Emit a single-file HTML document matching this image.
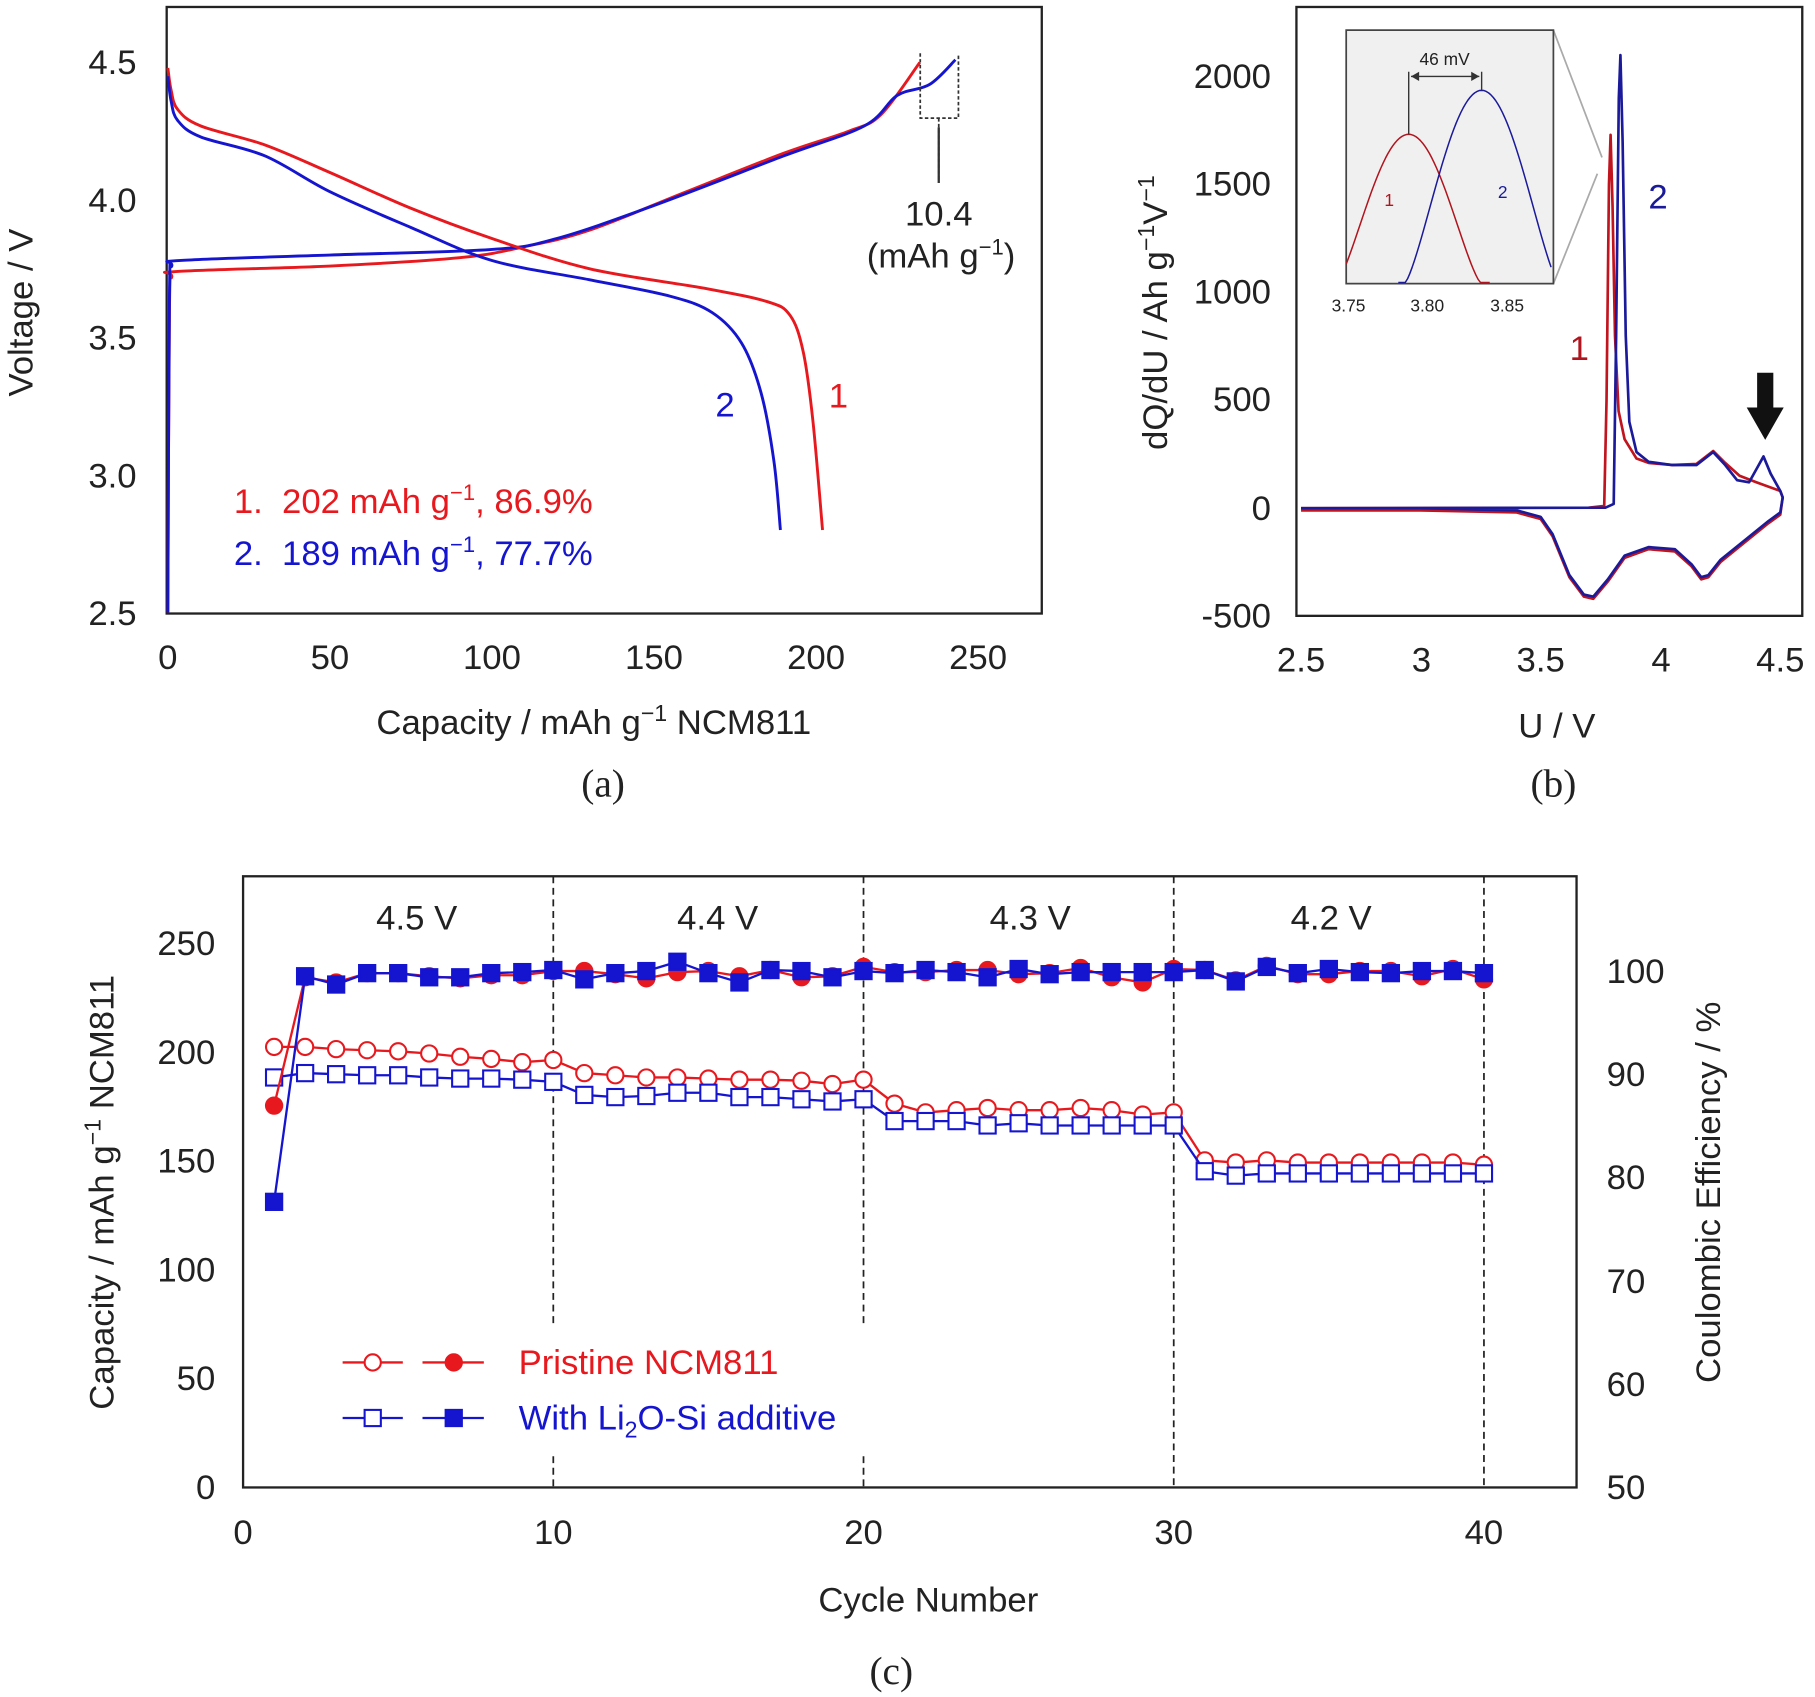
<!DOCTYPE html>
<html><head><meta charset="utf-8"><style>
html,body{margin:0;padding:0;background:#fff}
svg{display:block}
text{font-family:"Liberation Sans",sans-serif;fill:#222}
.t{font-size:30px}
.l{font-size:30px}
.s{font-family:"Liberation Serif",serif;font-size:34px}
</style></head><body>
<svg id="g" xmlns="http://www.w3.org/2000/svg" width="1815" height="1697" viewBox="0 0 1568 1466">
<!-- Panel a -->
<rect x="144" y="6" width="756" height="524" fill="none" stroke="#222" stroke-width="2"/>
<g class="t" text-anchor="end">
<text x="118" y="64">4.5</text><text x="118" y="183">4.0</text><text x="118" y="302">3.5</text><text x="118" y="421">3.0</text><text x="118" y="540">2.5</text></g>
<g class="t" text-anchor="middle">
<text x="145" y="578">0</text><text x="285" y="578">50</text><text x="425" y="578">100</text><text x="565" y="578">150</text><text x="705" y="578">200</text><text x="845" y="578">250</text></g>
<text class="l" x="513" y="634" text-anchor="middle">Capacity / mAh g<tspan font-size="20" dy="-11">−1</tspan><tspan dy="11"> NCM811</tspan></text>
<text class="l" transform="translate(28,270) rotate(-90)" text-anchor="middle">Voltage / V</text>
<text class="s" x="521" y="688" text-anchor="middle">(a)</text>
<g id="pa"></g>
<path d="M795 46 L795 102 L828 102 L828 46 M811 102 L811 158" fill="none" stroke="#333" stroke-width="1.5" stroke-dasharray="3,2"/>
<path d="M811 110 L811 158" stroke="#333" stroke-width="2"/>
<text class="t" x="811" y="195" text-anchor="middle">10.4</text>
<text class="t" x="813" y="231" text-anchor="middle">(mAh g<tspan font-size="19" dy="-11">−1</tspan><tspan dy="11">)</tspan></text>
<text class="t" x="618" y="360" style="fill:#1515d0">2</text>
<text class="t" x="716" y="352" style="fill:#e8191e">1</text>
<text class="t" x="202" y="443" style="fill:#e8191e" xml:space="preserve">1.  202 mAh g<tspan font-size="19" dy="-11">−1</tspan><tspan dy="11">, 86.9%</tspan></text>
<text class="t" x="202" y="488" style="fill:#1515d0" xml:space="preserve">2.  189 mAh g<tspan font-size="19" dy="-11">−1</tspan><tspan dy="11">, 77.7%</tspan></text>

<!-- Panel b -->
<rect x="1120" y="6" width="437" height="526" fill="none" stroke="#222" stroke-width="2"/>
<g class="t" text-anchor="end">
<text x="1098" y="76">2000</text><text x="1098" y="169">1500</text><text x="1098" y="262">1000</text><text x="1098" y="355">500</text><text x="1098" y="449">0</text><text x="1098" y="542">-500</text></g>
<g class="t" text-anchor="middle">
<text x="1124" y="580">2.5</text><text x="1228" y="580">3</text><text x="1331" y="580">3.5</text><text x="1435" y="580">4</text><text x="1538" y="580">4.5</text></g>
<text class="l" x="1345" y="637" text-anchor="middle">U / V</text>
<text class="l" transform="translate(1008,270) rotate(-90)" text-anchor="middle">dQ/dU / Ah g<tspan font-size="20" dy="-11">−1</tspan><tspan dy="11">V</tspan><tspan font-size="20" dy="-11">−1</tspan></text>
<text class="s" x="1342" y="688" text-anchor="middle">(b)</text>
<g id="pb"></g>
<path d="M1342 26 L1384 136 M1342 245 L1380 150" stroke="#aaa" stroke-width="1.5" fill="none"/>
<rect x="1163" y="26" width="179" height="219" fill="#f0f0f0" stroke="#444" stroke-width="1.5"/>
<g id="ins"></g>
<path d="M1217 116 L1217 62 M1280 78 L1280 62 M1219 66 L1278 66" stroke="#333" stroke-width="1.2" fill="none"/>
<path d="M1219 66 l7 -4 l0 8z M1278 66 l-7 -4 l0 8z" fill="#333"/>
<text x="1248" y="56" font-size="15" text-anchor="middle">46 mV</text>
<text x="1196" y="178" font-size="15" style="fill:#b0141e">1</text>
<text x="1294" y="171" font-size="15" style="fill:#1a1a9a">2</text>
<g font-size="15" text-anchor="middle"><text x="1165" y="269">3.75</text><text x="1233" y="269">3.80</text><text x="1302" y="269">3.85</text></g>
<text class="t" x="1356" y="311" style="fill:#b0141e">1</text>
<text class="t" x="1424" y="180" style="fill:#1a1a9a">2</text>
<path d="M1518 322 L1532 322 L1532 352 L1541 352 L1525 380 L1509 352 L1518 352 Z" fill="#111"/>

<!-- Panel c -->
<rect x="210" y="757" width="1152" height="528" fill="none" stroke="#222" stroke-width="2"/>
<g stroke="#222" stroke-width="1.5" stroke-dasharray="6,4">
<path d="M478 757 V1145 M478 1258 V1285 M746 757 V1145 M746 1258 V1285 M1014 757 V1285 M1282 757 V1285"/></g>
<g class="t" text-anchor="end">
<text x="186" y="825">250</text><text x="186" y="919">200</text><text x="186" y="1013">150</text><text x="186" y="1107">100</text><text x="186" y="1201">50</text><text x="186" y="1295">0</text></g>
<g class="t" text-anchor="start">
<text x="1388" y="849">100</text><text x="1388" y="938">90</text><text x="1388" y="1027">80</text><text x="1388" y="1117">70</text><text x="1388" y="1206">60</text><text x="1388" y="1295">50</text></g>
<g class="t" text-anchor="middle">
<text x="210" y="1334">0</text><text x="478" y="1334">10</text><text x="746" y="1334">20</text><text x="1014" y="1334">30</text><text x="1282" y="1334">40</text>
<text x="360" y="803">4.5 V</text><text x="620" y="803">4.4 V</text><text x="890" y="803">4.3 V</text><text x="1150" y="803">4.2 V</text></g>
<text class="l" x="802" y="1392" text-anchor="middle">Cycle Number</text>
<text class="l" transform="translate(98,1030) rotate(-90)" text-anchor="middle">Capacity / mAh g<tspan font-size="20" dy="-11">−1</tspan><tspan dy="11"> NCM811</tspan></text>
<text class="l" transform="translate(1486,1030) rotate(-90)" text-anchor="middle">Coulombic Efficiency / %</text>
<text class="s" x="770" y="1455" text-anchor="middle">(c)</text>
<g id="pc"></g>
<g id="leg"></g>
<text class="l" x="448" y="1187" style="fill:#e8191e">Pristine NCM811</text>
<text class="l" x="448" y="1235" style="fill:#1515d0">With Li<tspan font-size="20" dy="7">2</tspan><tspan dy="-7">O-Si additive</tspan></text>
</svg>
<script>
var NS="http://www.w3.org/2000/svg",R="#e8191e",B="#1515d0";
function el(p,t,a){var e=document.createElementNS(NS,t);for(var k in a)e.setAttribute(k,a[k]);document.getElementById(p).appendChild(e);return e;}
function poly(p,pts,c,w){el(p,"polyline",{points:pts.map(function(q){return q[0].toFixed(1)+","+q[1].toFixed(1)}).join(" "),fill:"none",stroke:c,"stroke-width":w||2.5,"stroke-linejoin":"round"});}
function smooth(p,pts,c,w){var d="M"+pts[0][0].toFixed(1)+","+pts[0][1].toFixed(1);
for(var i=0;i<pts.length-1;i++){var p0=pts[i-1]||pts[i],p1=pts[i],p2=pts[i+1],p3=pts[i+2]||p2;
var c1=[p1[0]+(p2[0]-p0[0])/6,p1[1]+(p2[1]-p0[1])/6],c2=[p2[0]-(p3[0]-p1[0])/6,p2[1]-(p3[1]-p1[1])/6];
d+=" C"+c1[0].toFixed(1)+","+c1[1].toFixed(1)+" "+c2[0].toFixed(1)+","+c2[1].toFixed(1)+" "+p2[0].toFixed(1)+","+p2[1].toFixed(1);}
el(p,"path",{d:d,fill:"none",stroke:c,"stroke-width":w||2.5,"stroke-linejoin":"round"});}
// a
function A(d){return d.map(function(q){return [145+q[0]*2.8,529-(q[1]-2.5)*237.5];});}
smooth("pa",A([[0,2.5],[0.5,3.6],[1.2,3.72],[3,3.74],[50,3.76],[90,3.79],[110,3.83],[130,3.89],[160,4.03],[190,4.17],[210,4.25],[220,4.31],[232,4.5]]),R);
smooth("pa",A([[0,2.5],[0.5,3.65],[1.2,3.76],[4,3.78],[50,3.80],[100,3.82],[120,3.86],[150,3.98],[190,4.16],[215,4.27],[225,4.38],[235,4.42],[243,4.51]]),B);
smooth("pa",A([[0,4.48],[1,4.40],[3,4.33],[10,4.27],[30,4.2],[50,4.1],[75,3.97],[100,3.86],[130,3.75],[165,3.68],[185,3.63],[192,3.58],[196,3.45],[199,3.2],[202,2.8]]),R);
smooth("pa",A([[0,4.45],[1,4.36],[3,4.29],[10,4.23],[30,4.16],[50,4.03],[75,3.90],[100,3.78],[130,3.71],[155,3.65],[168,3.59],[177,3.48],[183,3.3],[187,3.05],[189,2.8]]),B);
// b
function Bm(d){return d.map(function(q){return [1124+(q[0]-2.5)*207,439-q[1]*0.1864];});}
var neg=[[4.5,-20],[4.45,-60],[4.35,-150],[4.25,-240],[4.2,-310],[4.17,-320],[4.13,-260],[4.06,-190],[3.95,-180],[3.85,-220],[3.78,-330],[3.72,-410],[3.68,-400],[3.62,-310],[3.55,-120],[3.5,-40],[3.4,-10],[3.0,0],[2.5,0]];
poly("pb",Bm([[2.5,0],[3.7,2],[3.765,10],[3.775,500],[3.785,1500],[3.792,1730],[3.80,1400],[3.81,800],[3.825,450],[3.85,320],[3.9,230],[3.95,210],[4.05,200],[4.15,205],[4.22,265],[4.27,210],[4.33,150],[4.4,120],[4.5,80],[4.51,50]].concat(neg.map(function(q){return [q[0],q[1]-10]}))),"#c0141e",2.3);
poly("pb",Bm([[2.5,0],[3.77,2],[3.805,20],[3.815,800],[3.826,1900],[3.833,2100],[3.842,1700],[3.855,800],[3.87,400],[3.9,260],[3.95,215],[4.05,200],[4.15,200],[4.22,260],[4.27,200],[4.32,130],[4.37,120],[4.41,200],[4.43,240],[4.46,160],[4.5,80],[4.51,50]].concat(neg)),"#1a1a9a",2.3);
function G(mu,peak,left,right,y0,c){var p=[];for(var x=left;x<=right;x+=2){var s=(right-left)/2;var u=(x-mu)/s;var v=Math.cos(u*Math.PI/2);v=Math.max(0,v);p.push([x,y0-(y0-peak)*Math.pow(v,1.3)]);}poly("ins",p,c,1.3);}
G(1217,116,1163,1287,244,"#b0141e");G(1280,78,1208,1340,244,"#1a1a9a");
// c
function cx(n){return 210+n*26.8;}function cy(v){return 1285-v*1.884;}function ce(v){return 838+(100-v)*8.94;}
var rd=[202,202,201,200.5,200,199,197.5,196.5,195,196,190,189,188,188,187.5,187,187,186.5,185,187,176,172,173,174,173,173,174,173,171,172,150,149,150,149,149,149,149,149,149,148];
var bd=[188,190,189.5,189,189,188,187.5,187.5,187,186,180,179,179.5,181,181,179,179,178,177,178,168,168,168,166,167,166,166,166,166,166,145,143,144,144,144,144,144,144,144,144];
var rc=[86.9,99.3,98.8,99.7,99.7,99.4,99.2,99.5,99.5,99.9,99.9,99.6,99.2,99.8,99.9,99.4,100,99.3,99.4,100.3,99.8,99.8,100,100,99.6,99.7,100.2,99.3,98.8,100.1,100,99,100.4,99.6,99.6,99.9,99.9,99.4,100.1,99.1];
var bc=[77.6,99.4,98.6,99.7,99.7,99.3,99.3,99.7,99.8,100,99.1,99.7,99.9,100.8,99.7,98.8,100,99.9,99.3,99.9,99.7,100,99.8,99.3,100.1,99.6,99.8,99.8,99.8,99.8,100,98.9,100.3,99.7,100.1,99.8,99.7,99.9,99.9,99.7];
function series(d,f,c,shape,fill){poly("pc",d.map(function(v,i){return [cx(i+1),f(v)]}),c,2);
d.forEach(function(v,i){mk("pc",cx(i+1),f(v),c,shape,fill);});}
function mk(p,x,y,c,shape,fill){if(shape=="c")el(p,"circle",{cx:x,cy:y,r:7,fill:fill?c:"#fff",stroke:c,"stroke-width":1.8});else el(p,"rect",{x:x-7,y:y-7,width:14,height:14,fill:fill?c:"#fff",stroke:c,"stroke-width":1.8});}
series(rd,cy,R,"c",false);series(bd,cy,B,"s",false);series(rc,ce,R,"c",true);series(bc,ce,B,"s",true);
poly("leg",[[296,1177],[348,1177]],R,2);poly("leg",[[365,1177],[418,1177]],R,2);mk("leg",322,1177,R,"c",false);mk("leg",392,1177,R,"c",true);
poly("leg",[[296,1225],[348,1225]],B,2);poly("leg",[[365,1225],[418,1225]],B,2);mk("leg",322,1225,B,"s",false);mk("leg",392,1225,B,"s",true);
</script>
</body></html>
